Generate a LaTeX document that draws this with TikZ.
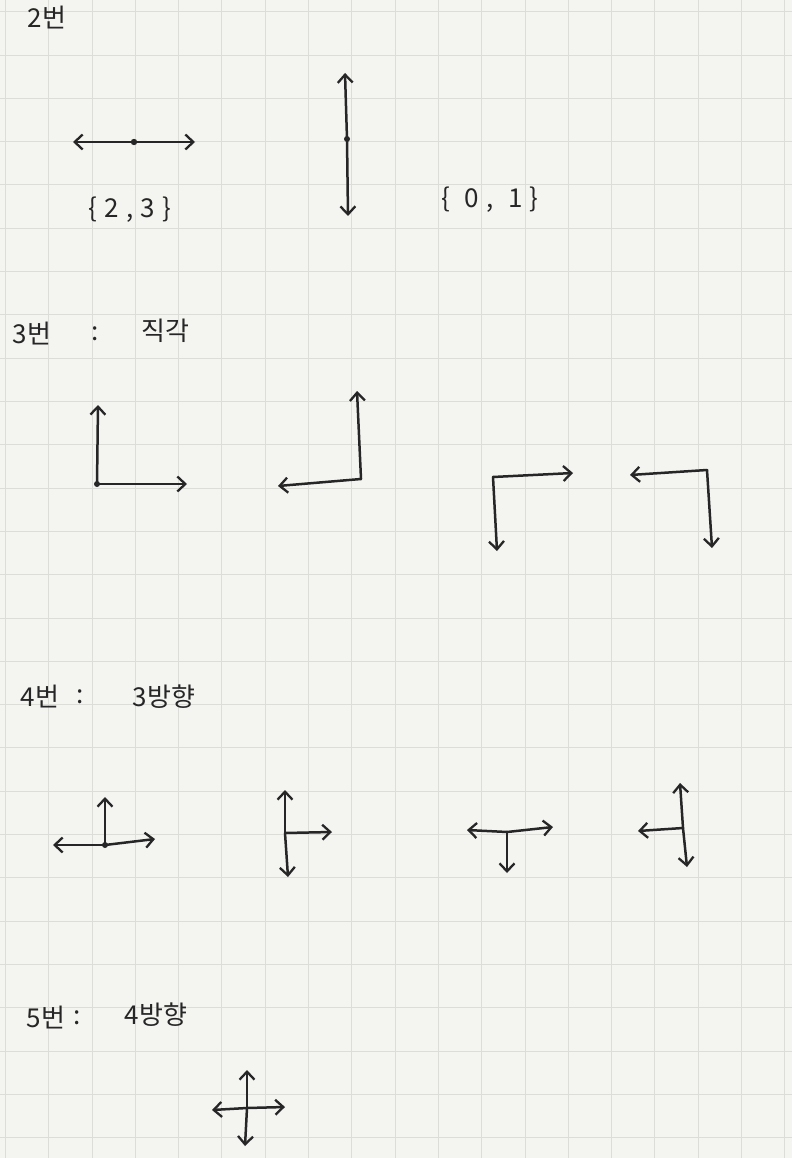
\documentclass[tikz,border=0pt]{standalone}
\usepackage{fontspec}
\newfontfamily\kr{Noto Sans CJK KR}
\usetikzlibrary{arrows.meta}
\definecolor{paper}{HTML}{F4F4F1}
\definecolor{gridc}{HTML}{DCDCD9}
\definecolor{ink}{HTML}{262626}
\tikzset{
  gridline/.style={draw=gridc, line width=1pt},
  pen/.style={draw=ink, line width=2.5pt, line cap=round, line join=round},
  arr/.style={pen, -{Straight Barb[length=8pt, width=15pt, line width=2.3pt]}},
  lbl/.style={text=ink, font=\kr\fontsize{26}{30}\selectfont, inner sep=0pt},
  dotc/.style={fill=ink, draw=none},
}
\begin{document}
\begin{tikzpicture}[x=1pt,y=-1pt]
\useasboundingbox (0,0) rectangle (792,1158);
\fill[paper] (0,0) rectangle (792,1158);
\foreach \i in {0,...,18} \draw[gridline] (5.4+43.3*\i,0) -- (5.4+43.3*\i,1158);
\foreach \j in {0,...,26} \draw[gridline] (0,11.8+43.3*\j) -- (792,11.8+43.3*\j);

% ---- 2 ----
\node[lbl] (t2) at (47,18) {2번};
\coordinate (a0) at (134,142);
\coordinate (aL) at (73,142);
\coordinate (aR) at (195,142);
\draw[arr] (a0) -- (aL);
\draw[arr] (a0) -- (aR);
\fill[dotc] (a0) circle (3.2);
\node[lbl] (s23) at (130,210) {\{\;2\;,\;3\;\}};

\coordinate (b0) at (347,139);
\coordinate (bU) at (345,73);
\coordinate (bD) at (348,216);
\draw[arr] (b0) -- (bU);
\draw[arr] (b0) -- (bD);
\fill[dotc] (b0) circle (3);
\node[lbl] (s01) at (490,200) {\{\;\;0\;,\;\;1\;\}};

% ---- 3 ----
\node[lbl] (t3) at (32,334) {3번};
\node[lbl] (c3) at (95,334) {:};
\node[lbl] (w3) at (165,331) {직각};

\coordinate (c1) at (97,484);
\coordinate (c1U) at (98,405);
\coordinate (c1R) at (187,484);
\draw[arr] (c1) -- (c1U);
\draw[arr] (c1) -- (c1R);
\fill[dotc] (c1) circle (3);

\coordinate (c2) at (361,479);
\coordinate (c2U) at (357,391);
\coordinate (c2L) at (278,486);
\draw[arr] (c2) -- (c2U);
\draw[arr] (c2) -- (c2L);

\coordinate (c3p) at (493,477);
\coordinate (c3R) at (573,473);
\coordinate (c3D) at (497,551);
\draw[arr] (c3p) -- (c3R);
\draw[arr] (c3p) -- (c3D);

\coordinate (c4) at (707,470);
\coordinate (c4L) at (630,475);
\coordinate (c4D) at (712,548);
\draw[arr] (c4) -- (c4L);
\draw[arr] (c4) -- (c4D);

% ---- 4 ----
\node[lbl] (t4) at (40,697) {4번};
\node[lbl] (c4t) at (80,697) {:};
\node[lbl] (w4) at (164,697) {3방향};

\coordinate (d1) at (105,845);
\coordinate (d1U) at (105,797);
\coordinate (d1L) at (53,845);
\coordinate (d1R) at (155,839);
\draw[arr] (d1) -- (d1U);
\draw[arr] (d1) -- (d1L);
\draw[arr] (d1) -- (d1R);
\fill[dotc] (d1) circle (3);

\coordinate (d2) at (285,833);
\coordinate (d2U) at (285,790);
\coordinate (d2R) at (332,832);
\coordinate (d2D) at (288,877);
\draw[arr] (d2) -- (d2U);
\draw[arr] (d2) -- (d2R);
\draw[arr] (d2) -- (d2D);

\coordinate (d3) at (507,832);
\coordinate (d3L) at (467,830);
\coordinate (d3R) at (553,827);
\coordinate (d3D) at (507,873);
\draw[arr] (d3) -- (d3L);
\draw[arr] (d3) -- (d3R);
\draw[arr] (d3) -- (d3D);

\coordinate (d4) at (683,828);
\coordinate (d4U) at (680,783);
\coordinate (d4D) at (687,867);
\coordinate (d4L) at (638,831);
\draw[arr] (d4) -- (d4U);
\draw[arr] (d4) -- (d4D);
\draw[arr] (d4) -- (d4L);

% ---- 5 ----
\node[lbl] (t5) at (46,1018) {5번};
\node[lbl] (c5t) at (77,1018) {:};
\node[lbl] (w5) at (156,1015) {4방향};

\coordinate (e0) at (247,1108);
\coordinate (eU) at (247,1070);
\coordinate (eL) at (212,1110);
\coordinate (eR) at (285,1107);
\coordinate (eD) at (245,1146);
\draw[arr] (e0) -- (eU);
\draw[arr] (e0) -- (eL);
\draw[arr] (e0) -- (eR);
\draw[arr] (e0) -- (eD);
\end{tikzpicture}
\end{document}
